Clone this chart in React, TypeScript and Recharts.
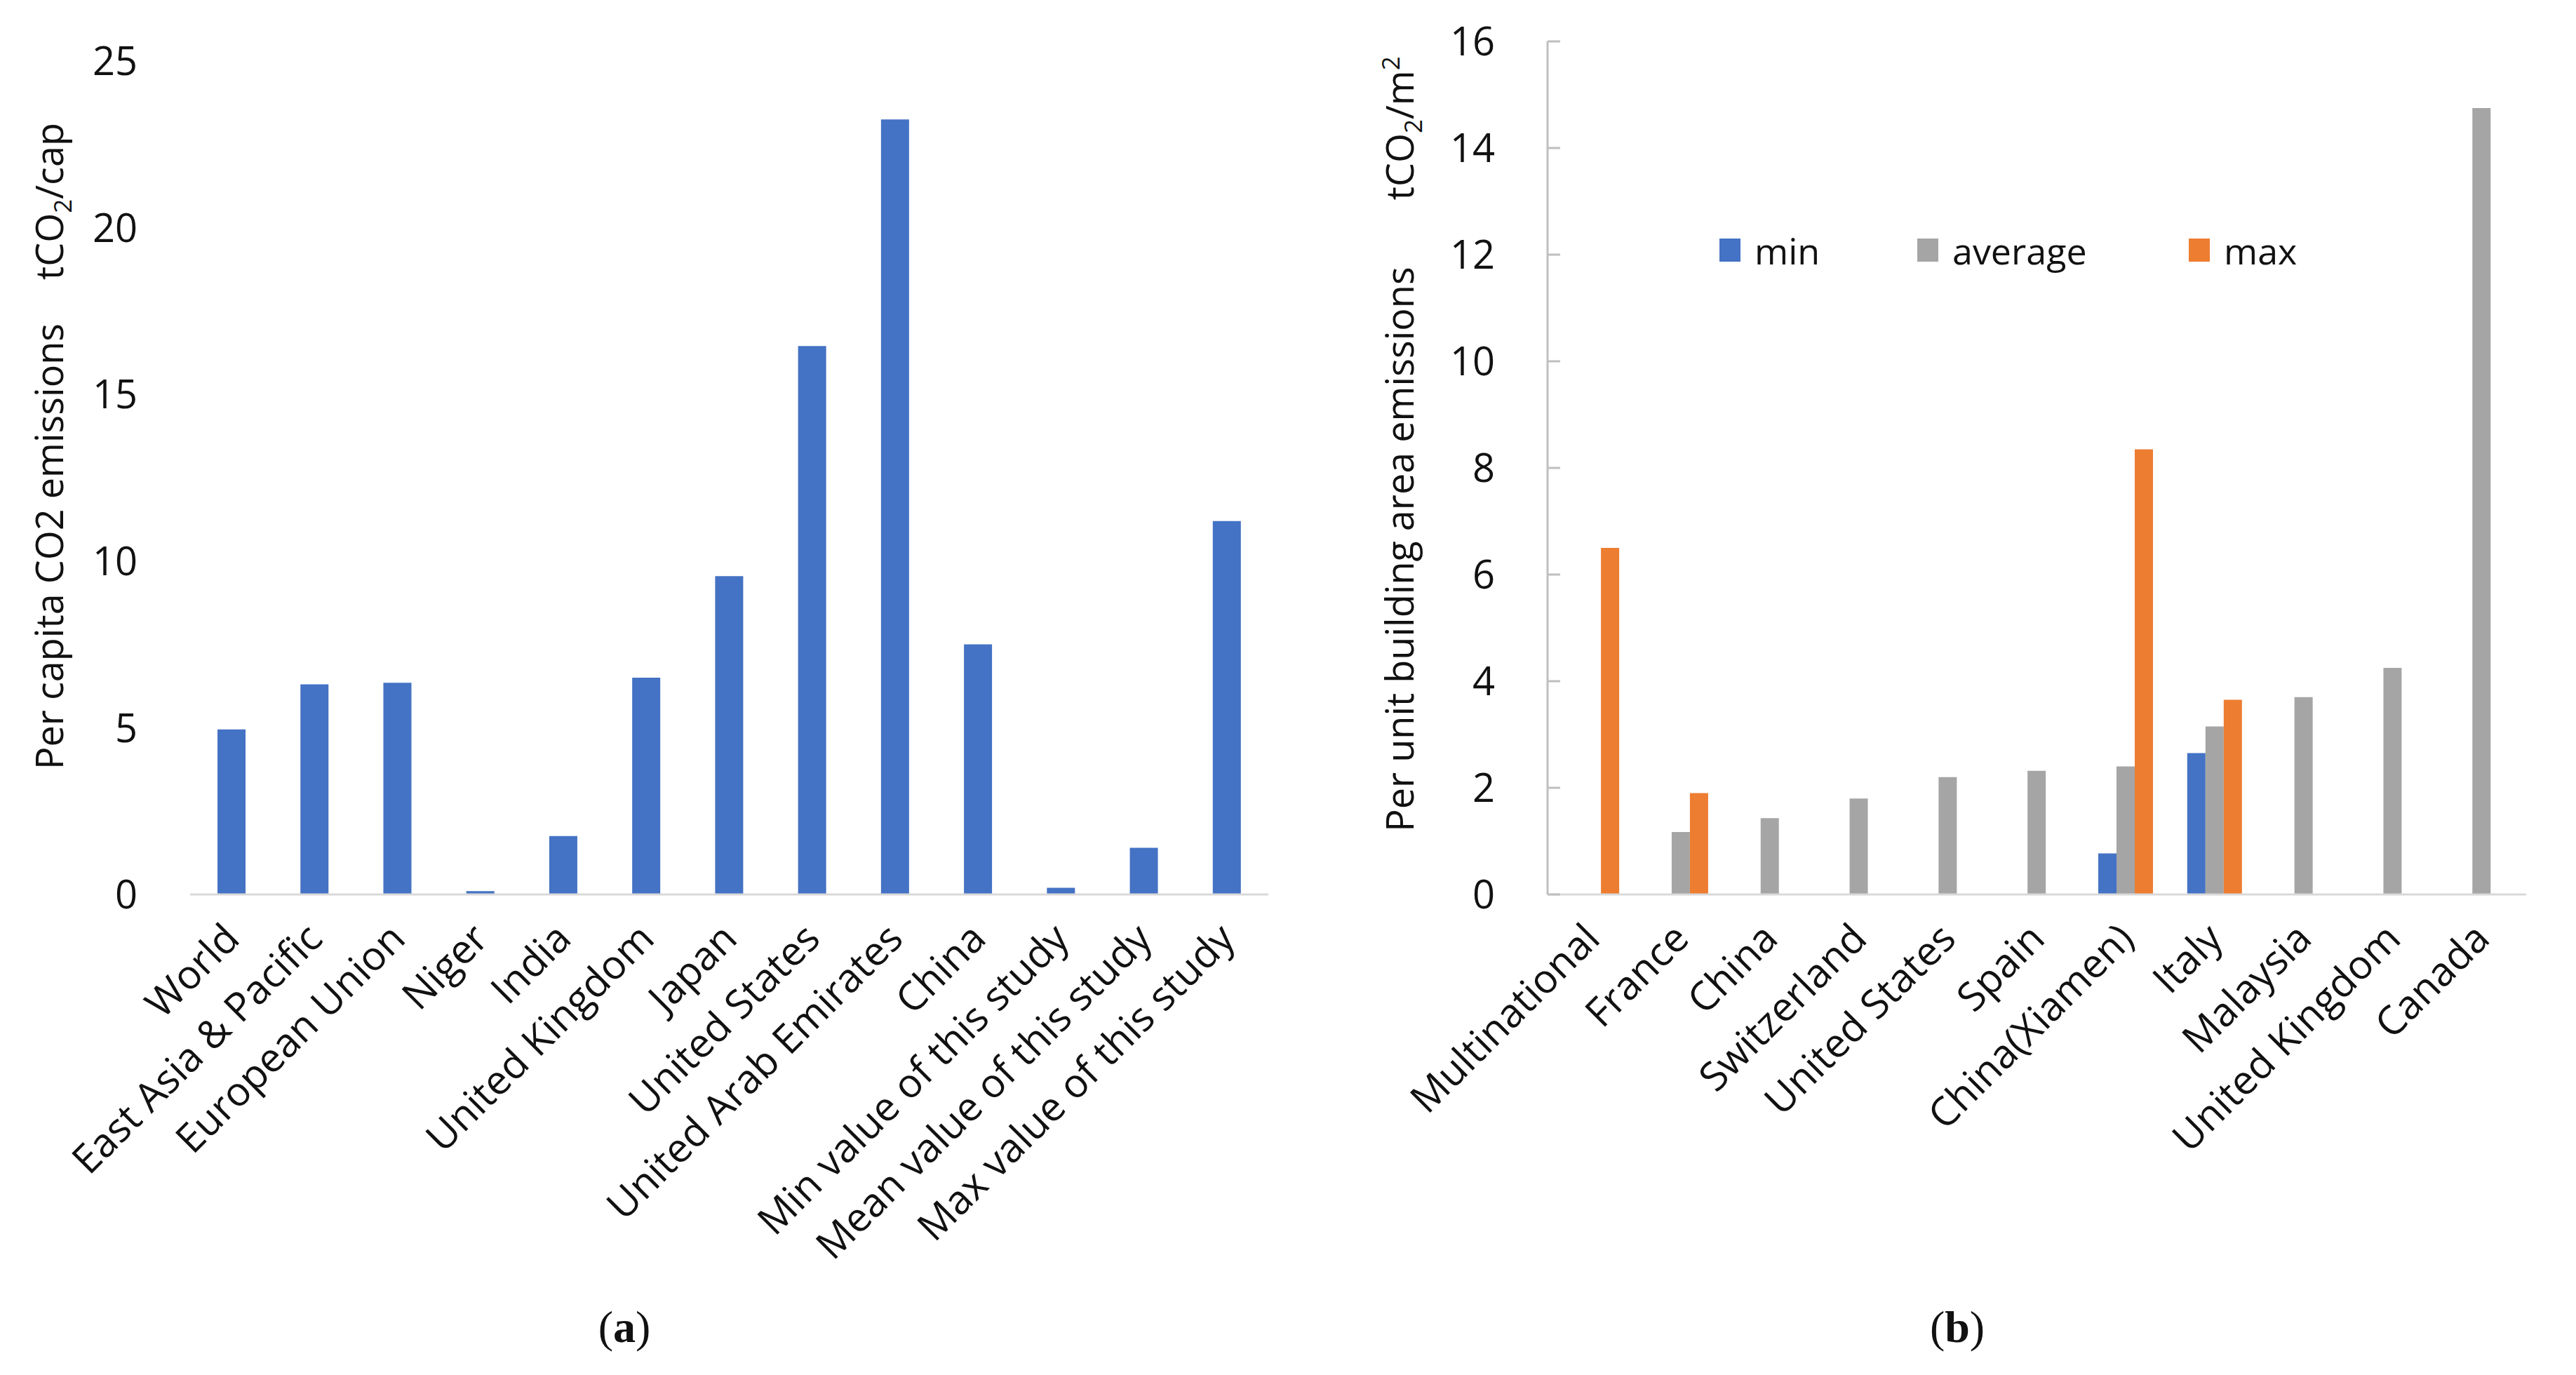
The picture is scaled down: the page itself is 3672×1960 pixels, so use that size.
import React from "react";
import { Bar, BarChart, Legend, XAxis, YAxis } from "recharts";

const CAPITA_CATEGORIES = [
  "World",
  "East Asia & Pacific",
  "European Union",
  "Niger",
  "India",
  "United Kingdom",
  "Japan",
  "United States",
  "United Arab Emirates",
  "China",
  "Min value of this study",
  "Mean value of this study",
  "Max value of this study",
];
const CAPITA_VALUES = [4.95, 6.3, 6.35, 0.1, 1.75, 6.5, 9.55, 16.45, 23.25, 7.5, 0.2, 1.4, 11.2];
const CAPITA_TICKS = [0, 5, 10, 15, 20, 25];

const AREA_CATEGORIES = [
  "Multinational",
  "France",
  "China",
  "Switzerland",
  "United States",
  "Spain",
  "China(Xiamen)",
  "Italy",
  "Malaysia",
  "United Kingdom",
  "Canada",
];
const AREA_MIN = [null, null, null, null, null, null, 0.77, 2.65, null, null, null];
const AREA_AVG = [null, 1.17, 1.43, 1.8, 2.2, 2.32, 2.4, 3.15, 3.7, 4.25, 14.75];
const AREA_MAX = [6.5, 1.9, null, null, null, null, 8.35, 3.65, null, null, null];
const AREA_TICKS = [0, 2, 4, 6, 8, 10, 12, 14, 16];
const SERIES_ORDER = ["min", "average", "max"];

const BLUE = "#4472C4";
const GRAY = "#A5A5A5";
const ORANGE = "#ED7D31";
const FONT = "'Open Sans', sans-serif";
const TICK_FS = 56;
const CAT_FS = 57;
const TITLE_FS = 54;
const LEGEND_FS = 52;
const TICK_MARGIN = 75;

const capitaData = CAPITA_CATEGORIES.map((name, i) => ({ name, value: CAPITA_VALUES[i] }));
const areaData = AREA_CATEGORIES.map((name, i) => ({
  name,
  min: AREA_MIN[i],
  average: AREA_AVG[i],
  max: AREA_MAX[i],
}));

function CategoryTick({ x, y, payload }: any) {
  return (
    <text
      transform={`translate(${x - 14},${y + 30}) rotate(-45)`}
      textAnchor="end"
      dy="0.7em"
      fontSize={CAT_FS}
      fontFamily={FONT}
      fill="#111"
    >
      {payload.value}
    </text>
  );
}

function ValueTick({ x, y, payload, inner }: any) {
  return (
    <g>
      {inner && (
        <line x1={x + TICK_MARGIN} x2={x + TICK_MARGIN + 18} y1={y} y2={y} stroke="#bfbfbf" strokeWidth={3} />
      )}
      <text x={x} y={y} dy="0.36em" textAnchor="end" fontSize={TICK_FS} fontFamily={FONT} fill="#111">
        {payload.value}
      </text>
    </g>
  );
}

function AxisTitle({
  cx,
  cy,
  main,
  unit,
  gap,
}: {
  cx: number;
  cy: number;
  main: string;
  unit: "cap" | "m2";
  gap: number;
}) {
  return (
    <text
      transform={`translate(${cx},${cy}) rotate(-90)`}
      textAnchor="middle"
      dy="0.36em"
      fontSize={TITLE_FS}
      fontFamily={FONT}
      fill="#111"
    >
      <tspan>{main}</tspan>
      <tspan dx={gap}>tCO</tspan>
      <tspan fontSize={35} dy={12}>2</tspan>
      {unit === "cap" ? (
        <tspan dy={-12}>/cap</tspan>
      ) : (
        <>
          <tspan dy={-12}>/m</tspan>
          <tspan fontSize={35} dy={-20}>2</tspan>
        </>
      )}
    </text>
  );
}

function AreaLegend({ payload }: any) {
  const widths = [282, 387, 200];
  const items = [...(payload || [])].sort(
    (a: any, b: any) => SERIES_ORDER.indexOf(a.value) - SERIES_ORDER.indexOf(b.value)
  );
  return (
    <div style={{ display: "flex", alignItems: "center", fontFamily: FONT, fontSize: LEGEND_FS, color: "#111" }}>
      {items.map((p: any, i: number) => (
        <div key={p.value} style={{ display: "flex", alignItems: "center", width: widths[i], flexShrink: 0 }}>
          <span
            style={{
              display: "inline-block",
              flexShrink: 0,
              width: 30,
              height: 33,
              background: p.color,
              marginRight: 20,
            }}
          />
          <span style={{ whiteSpace: "nowrap" }}>{p.value}</span>
        </div>
      ))}
    </div>
  );
}

function PanelLabel({ letter, left }: { letter: string; left: number }) {
  return (
    <div
      style={{
        position: "absolute",
        left,
        top: 1855,
        width: 200,
        textAlign: "center",
        fontFamily: "'Liberation Serif', serif",
        fontSize: 64,
        color: "#111",
      }}
    >
      (<b>{letter}</b>)
    </div>
  );
}

export default function App() {
  return (
    <div style={{ position: "absolute", left: 0, top: 0, width: 3672, height: 1960, background: "#fff" }}>
      <div style={{ position: "absolute", left: 0, top: 0 }}>
        <BarChart
          width={1836}
          height={1960}
          data={capitaData}
          margin={{ top: 87, right: 28, bottom: 85, left: 0 }}
          barCategoryGap="33%"
        >
          <XAxis
            dataKey="name"
            interval={0}
            height={600}
            tick={<CategoryTick />}
            tickLine={false}
            axisLine={{ stroke: "#d9d9d9", strokeWidth: 3 }}
          />
          <YAxis
            width={271}
            domain={[0, 25]}
            ticks={CAPITA_TICKS}
            axisLine={false}
            tickLine={false}
            tickSize={0}
            tickMargin={TICK_MARGIN}
            tick={<ValueTick />}
            label={() => <AxisTitle cx={71} cy={636} main="Per capita CO2 emissions" unit="cap" gap={62} />}
          />
          <Bar dataKey="value" fill={BLUE} isAnimationActive={false} />
        </BarChart>
      </div>
      <div style={{ position: "absolute", left: 1836, top: 0 }}>
        <BarChart
          width={1836}
          height={1960}
          data={areaData}
          margin={{ top: 59, right: 71, bottom: 85, left: 0 }}
          barCategoryGap="19%"
          barGap={0}
        >
          <XAxis
            dataKey="name"
            interval={0}
            height={600}
            tick={<CategoryTick />}
            tickLine={false}
            axisLine={{ stroke: "#d9d9d9", strokeWidth: 3 }}
          />
          <YAxis
            width={370}
            domain={[0, 16]}
            ticks={AREA_TICKS}
            axisLine={{ stroke: "#bfbfbf", strokeWidth: 3 }}
            tickLine={false}
            tickSize={0}
            tickMargin={TICK_MARGIN}
            tick={<ValueTick inner />}
            label={() => (
              <AxisTitle cx={160} cy={633} main="Per unit building area emissions" unit="m2" gap={95} />
            )}
          />
          <Legend
            verticalAlign="middle"
            align="center"
            content={<AreaLegend />}
            wrapperStyle={{ left: 615, top: 321, width: "auto" }}
          />
          <Bar dataKey="min" name="min" fill={BLUE} isAnimationActive={false} />
          <Bar dataKey="average" name="average" fill={GRAY} isAnimationActive={false} />
          <Bar dataKey="max" name="max" fill={ORANGE} isAnimationActive={false} />
        </BarChart>
      </div>
      <PanelLabel letter="a" left={790} />
      <PanelLabel letter="b" left={2690} />
    </div>
  );
}
